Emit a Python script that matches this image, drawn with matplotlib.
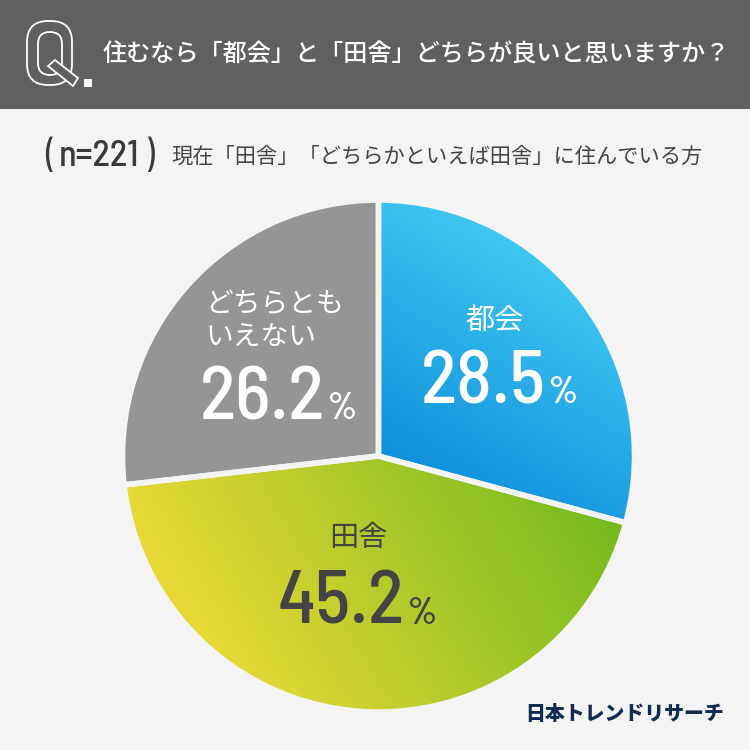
import matplotlib
matplotlib.use("Agg")
import matplotlib.pyplot as plt
import numpy as np
from matplotlib.colors import to_rgb
from matplotlib.patches import FancyBboxPatch, Polygon, Rectangle

plt.rcParams['font.family'] = ['Noto Sans CJK JP', 'DejaVu Sans']
NUM_FONT = ['Barlow Semi Condensed', 'Roboto', 'DejaVu Sans']
PCT_FONT = ['Barlow Condensed', 'Roboto', 'DejaVu Sans']

# Data
categories = ['都会', '田舎', 'どちらとも\nいえない']
value_labels = ['28.5', '45.2', '26.2']   # as printed
slice_shares = [29.2, 44.0, 26.8]         # as drawn (measured from the slice angles)
question = '住むなら「都会」と「田舎」どちらが良いと思いますか？'
sample = 'n=221'
subtitle = '現在「田舎」「どちらかといえば田舎」に住んでいる方'
brand = '日本トレンドリサーチ'

# Gradient per slice: start, end, direction, projection range
gradients = [('#0f8edc', '#3fc8f1', (0.5, 0.87), 0.0, 1.0),
             ('#e8d936', '#74ba1e', (0.85, 0.5), -0.95, 0.68),
             ('#959595', '#959595', (0.0, 1.0), -1.0, 1.0)]
bg = '#f4f4f4'
band = '#5f6060'
dark = '#444444'


def gradient_image(c0, c1, direction, low, high):
    c0 = np.array(to_rgb(c0))
    c1 = np.array(to_rgb(c1))
    xx, yy = np.meshgrid(np.linspace(-1, 1, 500), np.linspace(-1, 1, 500))
    d = np.array(direction) / np.hypot(*direction)
    t = np.clip(((xx * d[0] + yy * d[1]) - low) / (high - low), 0, 1)[..., None]
    return c0 + (c1 - c0) * t


fig = plt.figure(figsize=(7.5, 7.5), dpi=100, facecolor=bg)

# Page layer in pixel coordinates
page = fig.add_axes([0, 0, 1, 1])
page.set_xlim(0, 750)
page.set_ylim(750, 0)
page.axis('off')
page.add_patch(Rectangle((0, 0), 750, 109, color=band, lw=0))

# Q mark
page.add_patch(FancyBboxPatch((41, 35), 17, 36, boxstyle='round,pad=14,rounding_size=21',
                              fc='none', ec='white', lw=1.3))
page.add_patch(FancyBboxPatch((48, 42), 4, 23, boxstyle='round,pad=10,rounding_size=12',
                              fc='none', ec='white', lw=1.3))
page.add_patch(Polygon([(48, 66), (55, 60), (78, 78), (73, 86)], closed=True,
                       fc=band, ec='white', lw=1.3))
page.add_patch(Rectangle((84, 79), 8, 8, color='white', lw=0))

page.text(103, 55, question, color='white', fontsize=17.4, va='center', ha='left', fontweight='medium')
page.text(45, 157, '(', color='#3a3a3a', fontsize=29, va='center', ha='left', family=NUM_FONT)
page.text(59, 157, sample, color='#3a3a3a', fontsize=26, va='center', ha='left',
          family=NUM_FONT, fontweight='medium')
page.text(155, 157, ')', color='#3a3a3a', fontsize=29, va='center', ha='right', family=NUM_FONT)
page.text(171, 157, subtitle, color=dark, fontsize=15.3, va='center', ha='left')
page.text(724, 714, brand, color='#0f2c52', fontsize=14.3, fontweight='black', va='center', ha='right')

# Pie
cx, cy, r = 378.5, 456, 256
ax = fig.add_axes([(cx - r) / 750, (750 - cy - r) / 750, 2 * r / 750, 2 * r / 750])
wedges, _ = ax.pie(slice_shares, startangle=90, counterclock=False, radius=1,
                   wedgeprops=dict(edgecolor=bg, linewidth=4))
for w, (c0, c1, direction, low, high) in zip(wedges, gradients):
    img = ax.imshow(gradient_image(c0, c1, direction, low, high), extent=(-1, 1, -1, 1),
                    origin='lower', zorder=1, aspect='auto')
    img.set_clip_path(w)
    w.set_facecolor('none')
    w.set_zorder(2)
ax.set_xlim(-1, 1)
ax.set_ylim(-1, 1)
ax.axis('off')

# Labels on top, pixel coordinates
top = fig.add_axes([0, 0, 1, 1], label='labels')
top.set_xlim(0, 750)
top.set_ylim(750, 0)
top.axis('off')
top.patch.set_alpha(0)

label_pos = [(495, 321), (358, 538), (205, 321)]
value_pos = [(546, 403), (405, 624), (325, 419)]
label_colors = ['white', dark, 'white']
for name, val, lp, vp, col in zip(categories, value_labels, label_pos, value_pos, label_colors):
    if '\n' in name:
        top.text(lp[0], lp[1], name, color=col, fontsize=20, va='center', ha='left', linespacing=1.18)
    else:
        top.text(lp[0], lp[1], name, color=col, fontsize=21, va='center', ha='center')
    top.text(vp[0], vp[1], val, color=col, fontsize=54, va='baseline', ha='right',
             family=NUM_FONT, fontweight='medium')
    top.text(vp[0] + 3, vp[1], '%', color=col, fontsize=27, va='baseline', ha='left',
             family=PCT_FONT, fontweight='semibold')

fig.savefig('out.png', dpi=100, facecolor=bg)
